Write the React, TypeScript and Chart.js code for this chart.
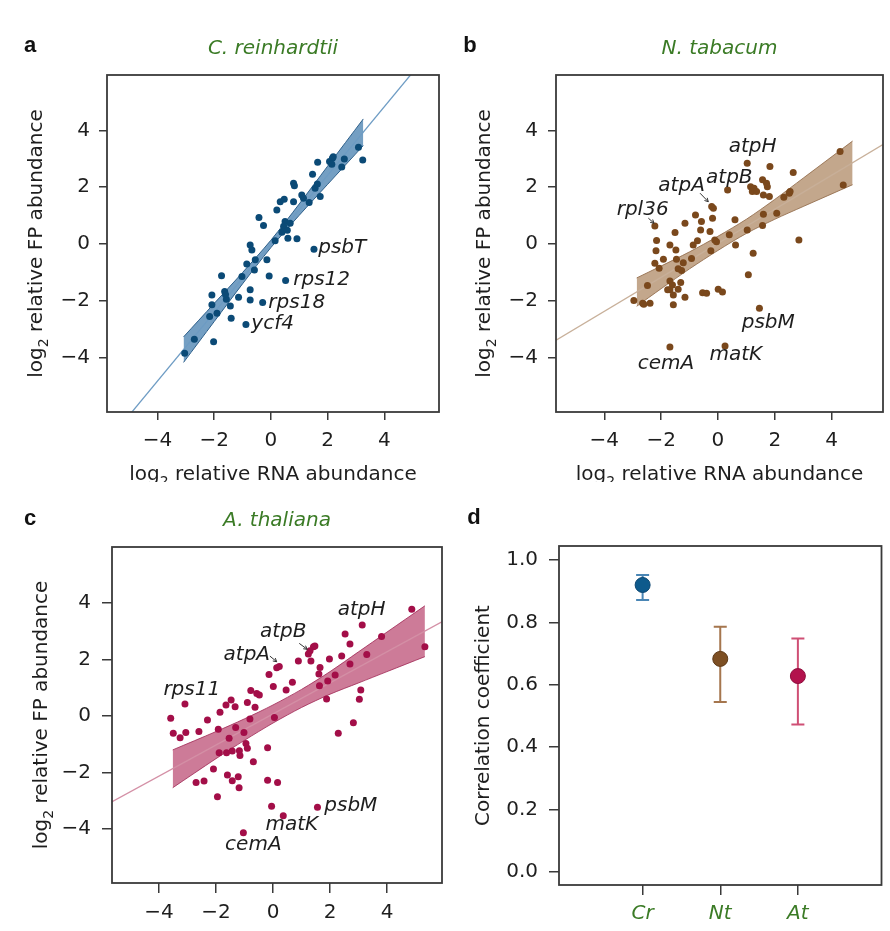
import React, { useEffect, useRef } from "react";
import { Chart, registerables } from "chart.js";

Chart.register(...registerables);

const SANS = '"DejaVu Sans", Verdana, sans-serif';
const LETTER_FONT = 'bold 22px "Liberation Sans", Arial, sans-serif';
const GREEN = "#3b7b26";
const INK = "#1e1e1e";
const FRAME = "#3a3a3a";

// Shared tick values
const scatterTicks = [-4, -2, 0, 2, 4];
const corrTicks = [0, 0.2, 0.4, 0.6, 0.8, 1.0];

// ---- C. reinhardtii: log2 RNA (x) vs log2 FP (y) ----
const crRna = [
  -3.04, -2.7, -2.02, -2.16, -2.08, -2.08, -1.9, -1.74, -1.63, -1.57,
  -1.43, -1.4, -1.14, -1.02, -0.85, -0.73, -0.73, -0.88, -0.29, -0.58,
  -0.55, -0.73, -0.67, -0.14, -0.06, 0.52, 0.15, 0.39, 0.6, 0.92,
  0.5, 0.68, -0.26, -0.42, 0.21, 0.33, 0.47, 0.8, 0.8, 0.83,
  1.09, 1.15, 1.35, 1.47, 1.56, 1.64, 1.74, 1.65, 1.52, 2.07,
  2.17, 2.15, 2.5, 2.59, 3.09, 3.24, 2.2, 0.45, 0.58, -1.6,
];
const crFp = [
  -3.86, -3.36, -3.45, -2.56, -2.15, -1.8, -2.45, -1.12, -1.68, -1.95,
  -2.19, -2.62, -1.88, -1.15, -0.71, -1.62, -1.98, -2.84, -2.07, -0.92,
  -0.56, -0.04, -0.21, -0.56, -1.13, -1.29, 0.11, 0.41, 0.2, 0.18,
  0.79, 0.73, 0.65, 0.93, 1.2, 1.49, 1.58, 1.49, 2.14, 2.05,
  1.73, 1.61, 1.46, 2.46, 1.96, 2.11, 1.67, 2.88, -0.19, 2.91,
  3.02, 2.81, 2.71, 3.0, 3.41, 2.96, 3.08, 0.62, 0.48, -1.78,
];
const crFitX = [-6, 6];
const crFitY = [-7.26, 7.26];
const crBandX = [-3.08, -2, -1, 0, 1, 2, 3.26];
const crBandUp = [-3.28, -2.1, -1.01, 0.13, 1.41, 2.74, 4.41];
const crBandLo = [-4.18, -2.74, -1.41, -0.13, 1.01, 2.1, 3.47];
const crGenes = ["psbT", "rps12", "rps18", "ycf4"];
const crGeneX = [1.67, 0.79, -0.09, -0.69];
const crGeneY = [-0.14, -1.27, -2.08, -2.82];

// ---- N. tabacum ----
const ntRna = [
  -2.96, -2.65, -2.61, -2.39, -2.48, -2.22, -2.16, -2.18, -2.22, -2.07,
  -1.92, -1.69, -1.51, -1.48, -1.46, -1.4, -1.28, -1.22, -1.16, -0.93,
  -0.87, -0.79, -0.72, -0.61, -0.58, -0.28, -0.25, -0.19, -0.22, -0.16,
  -0.11, -0.05, -1.69, -1.6, -1.69, -1.77, -1.57, -1.31, -1.4, -1.57,
  -1.16, -0.54, -0.4, 0.01, 0.16, 0.25, -1.69, 0.4, 0.6, 0.62,
  0.34, 1.03, 1.07, 1.24, 1.03, 1.15, 1.21, 1.27, 1.36, 1.57,
  1.6, 1.71, 1.74, 1.81, 1.83, 1.6, 1.57, 2.07, 2.32, 2.51,
  2.54, 2.65, 2.85, 1.46, 4.3, 4.41,
];
const ntFp = [
  -2.0, -2.09, -2.13, -2.09, -1.47, 0.63, 0.12, -0.24, -0.68, -0.86,
  -0.54, -0.04, 0.4, -0.21, -0.54, -0.88, -0.94, -0.66, 0.73, -0.51,
  -0.04, 1.02, 0.11, 0.49, 0.79, 0.44, -0.24, 0.91, 1.32, 1.26,
  0.14, 0.08, -1.31, -1.45, -1.62, -1.62, -1.8, -1.36, -1.6, -2.15,
  -1.88, -1.72, -1.74, -1.6, -1.7, -3.6, -3.64, 0.32, 0.85, -0.04,
  1.9, 0.49, -1.09, -0.33, 2.85, 2.02, 1.85, 1.96, 1.85, 2.26,
  1.73, 2.14, 2.02, 1.67, 2.73, 1.05, 0.65, 1.08, 1.65, 1.79,
  1.85, 2.52, 0.14, -2.27, 3.26, 2.08,
];
const ntFitX = [-6, 6];
const ntFitY = [-3.58, 3.62];
const ntBandX = [-2.86, -2, -1, 0, 1, 2, 3, 4.74];
const ntBandUp = [-1.2, -0.78, -0.28, 0.27, 0.87, 1.57, 2.32, 3.63];
const ntBandLo = [-2.2, -1.58, -0.88, -0.23, 0.37, 0.87, 1.32, 2.09];
const ntGenes = ["atpH", "atpB", "atpA", "rpl36", "psbM", "cemA", "matK"];
const ntGeneX = [1.22, 0.4, -1.28, -2.65, 1.77, -1.83, 0.63];
const ntGeneY = [3.41, 2.32, 2.05, 1.22, -2.8, -4.23, -3.92];

// ---- A. thaliana ----
const atRna = [
  -3.59, -3.5, -3.26, -3.06, -3.09, -2.7, -2.42, -2.6, -2.3, -2.09,
  -1.95, -1.92, -1.89, -1.86, -1.65, -1.63, -1.6, -1.54, -1.47, -1.43,
  -1.43, -1.33, -1.31, -1.22, -1.19, -1.18, -1.16, -1.02, -0.95, -0.9,
  -0.9, -0.81, -0.78, -0.69, -0.63, -0.57, -0.48, -0.19, -0.19, -0.14,
  -0.05, 0.01, 0.05, 0.13, 0.22, 0.16, 0.36, 0.46, 0.68, 0.89,
  1.24, 1.3, 1.42, 1.47, 1.33, -1.04, 1.56, 1.61, 1.65, 1.63,
  1.92, 1.98, 1.88, 2.18, 2.29, 2.41, 2.53, 2.7, 2.7, 2.82,
  3.03, 3.08, 3.13, 3.29, 3.81, 4.87, 5.33,
];
const atFp = [
  -0.08, -0.61, -0.77, -0.58, 0.42, -2.35, -2.3, -0.55, -0.14, -1.88,
  -2.86, -0.47, -1.3, 0.13, 0.39, -1.3, -2.09, -0.79, 0.57, -1.24,
  -2.29, 0.33, -0.41, -2.15, -2.54, -1.23, -1.4, -0.58, -0.97, -1.14,
  0.48, -0.11, 0.9, -1.62, 0.31, 0.8, 0.74, -1.12, -2.27, 1.47,
  -3.19, 1.04, -0.05, 1.71, 1.75, -2.35, -3.53, 0.92, 1.19, 1.95,
  2.19, 2.31, 2.45, 2.48, 1.95, -4.13, -3.23, 1.49, 1.72, 1.07,
  1.24, 2.02, 0.6, 1.45, -0.61, 2.12, 2.9, 2.55, 1.84, -0.24,
  0.59, 0.92, 3.22, 2.18, 2.81, 3.78, 2.45,
];
const atFitX = [-6, 6];
const atFitY = [-3.23, 3.37];
const atBandX = [-3.52, -2, -1, 0, 1, 2, 3, 4, 5.33];
const atBandUp = [-1.2, -0.55, -0.1, 0.39, 0.94, 1.57, 2.27, 2.97, 3.9];
const atBandLo = [-2.54, -1.51, -0.86, -0.25, 0.3, 0.77, 1.17, 1.57, 2.1];
const atGenes = ["atpH", "atpB", "atpA", "rps11", "psbM", "matK", "cemA"];
const atGeneX = [3.11, 0.36, -0.92, -2.85, 2.73, 0.66, -0.69];
const atGeneY = [3.75, 2.98, 2.18, 0.94, -3.19, -3.86, -4.57];

// ---- Correlation summary ----
const summarySpecies = ["Cr", "Nt", "At"];
const corr = [0.92, 0.683, 0.628];
const corrLow = [0.872, 0.545, 0.473];
const corrHigh = [0.952, 0.786, 0.748];
const corrPointColors = ["#0e5a8c", "#7d4f23", "#b3124d"];
const corrPointEdges = ["#0a4570", "#5e3a18", "#8e0d3c"];
const corrBarColors = ["#4a86b5", "#a5764e", "#cf4f75"];

const minusFmt = (v: number) => (v < 0 ? "\u2212" + Math.abs(v) : String(v));

function linearAxis(
  min: number,
  max: number,
  ticks: number[],
  size: number,
  tickLen: number,
  pad: number,
  fmt: (v: number) => string,
  tickFont: any = { family: SANS, size: 20 },
  tickColor: string = INK
) {
  return {
    type: "linear",
    min,
    max,
    afterBuildTicks: (s: any) => {
      s.ticks = ticks.map((v) => ({ value: v }));
    },
    afterFit: (s: any) => {
      if (s.isHorizontal()) s.height = size;
      else s.width = size;
    },
    grid: {
      drawOnChartArea: false,
      drawTicks: true,
      tickLength: tickLen,
      color: FRAME,
      lineWidth: 1.5,
    },
    border: { display: false },
    ticks: {
      padding: pad,
      color: tickColor,
      font: tickFont,
      maxRotation: 0,
      autoSkip: false,
      callback: (v: any) => fmt(Number(v)),
    },
  };
}

function subscriptTitle(
  ctx: CanvasRenderingContext2D,
  before: string,
  sub: string,
  after: string,
  x: number,
  y: number,
  rotate: boolean,
  size: number
) {
  ctx.save();
  ctx.translate(x, y);
  if (rotate) ctx.rotate(-Math.PI / 2);
  const main = `${size}px ${SANS}`;
  const small = `${Math.round(size * 0.7)}px ${SANS}`;
  ctx.font = main;
  const w1 = ctx.measureText(before).width;
  const w3 = ctx.measureText(after).width;
  ctx.font = small;
  const w2 = ctx.measureText(sub).width;
  let cx = -(w1 + w2 + w3) / 2;
  ctx.textAlign = "left";
  ctx.textBaseline = "alphabetic";
  ctx.fillStyle = INK;
  const base = size * 0.36;
  ctx.font = main;
  ctx.fillText(before, cx, base);
  cx += w1;
  if (sub) {
    ctx.font = small;
    ctx.fillText(sub, cx, base + size * 0.3);
    cx += w2;
  }
  ctx.font = main;
  ctx.fillText(after, cx, base);
  ctx.restore();
}

function arrow(ctx: CanvasRenderingContext2D, x1: number, y1: number, x2: number, y2: number) {
  ctx.beginPath();
  ctx.moveTo(x1, y1);
  ctx.lineTo(x2, y2);
  ctx.stroke();
  const ang = Math.atan2(y2 - y1, x2 - x1);
  const h = 4;
  ctx.beginPath();
  ctx.moveTo(x2, y2);
  ctx.lineTo(x2 - h * Math.cos(ang - 0.5), y2 - h * Math.sin(ang - 0.5));
  ctx.moveTo(x2, y2);
  ctx.lineTo(x2 - h * Math.cos(ang + 0.5), y2 - h * Math.sin(ang + 0.5));
  ctx.stroke();
}

interface ScatterPanel {
  letter: string;
  letterX: number;
  letterY: number;
  title: string;
  rna: number[];
  fp: number[];
  fitX: number[];
  fitY: number[];
  bandX: number[];
  bandUp: number[];
  bandLo: number[];
  genes: string[];
  geneX: number[];
  geneY: number[];
  geneAlign: CanvasTextAlign;
  arrows: number[][];
  xRange: [number, number];
  yRange: [number, number];
  point: string;
  line: string;
  band: string;
  edge: string;
  w: number;
  h: number;
  area: { left: number; top: number; right: number; bottom: number };
  tickLen: number;
  xPad: number;
  yPad: number;
  yTitleGap: number;
  showXTitle: boolean;
}

function frame(ctx: CanvasRenderingContext2D, a: any) {
  ctx.strokeStyle = FRAME;
  ctx.lineWidth = 1.8;
  ctx.strokeRect(a.left, a.top, a.right - a.left, a.bottom - a.top);
}

function scatterConfig(p: ScatterPanel): any {
  const pts = p.rna.map((x, i) => ({ x, y: p.fp[i] }));
  const fit = p.fitX.map((x, i) => ({ x, y: p.fitY[i] }));
  const up = p.bandX.map((x, i) => ({ x, y: p.bandUp[i] }));
  const lo = p.bandX.map((x, i) => ({ x, y: p.bandLo[i] }));

  const decor = {
    id: "decor",
    afterDraw(chart: any) {
      const { ctx, chartArea: a, scales } = chart;
      const X = (v: number) => scales.x.getPixelForValue(v);
      const Y = (v: number) => scales.y.getPixelForValue(v);
      ctx.save();
      frame(ctx, a);
      ctx.strokeStyle = "#333";
      ctx.lineWidth = 1;
      p.arrows.forEach(([x1, y1, x2, y2]) => arrow(ctx, X(x1), Y(y1), X(x2), Y(y2)));
      ctx.font = `italic 20px ${SANS}`;
      ctx.fillStyle = INK;
      ctx.textBaseline = "middle";
      ctx.textAlign = p.geneAlign;
      p.genes.forEach((g, i) => ctx.fillText(g, X(p.geneX[i]), Y(p.geneY[i])));
      ctx.fillStyle = GREEN;
      ctx.textAlign = "center";
      ctx.fillText(p.title, (a.left + a.right) / 2, a.top - 26);
      ctx.font = LETTER_FONT;
      ctx.fillStyle = "#111";
      ctx.fillText(p.letter, p.letterX, p.letterY);
      if (p.showXTitle)
        subscriptTitle(ctx, "log", "2", " relative RNA abundance", (a.left + a.right) / 2, a.bottom + 61, false, 20);
      subscriptTitle(ctx, "log", "2", " relative FP abundance", a.left - p.yTitleGap, (a.top + a.bottom) / 2, true, 20);
      ctx.restore();
    },
  };

  return {
    type: "scatter",
    data: {
      datasets: [
        { data: pts, pointRadius: 3.5, pointHoverRadius: 3.5, pointBackgroundColor: p.point, pointBorderWidth: 0 },
        { type: "line", data: fit, borderColor: p.line, borderWidth: 1.3, pointRadius: 0, fill: false, tension: 0 },
        { type: "line", data: up, borderColor: p.edge, borderWidth: 1, pointRadius: 0, fill: false, tension: 0.3 },
        {
          type: "line",
          data: lo,
          borderColor: p.edge,
          borderWidth: 1,
          pointRadius: 0,
          fill: "-1",
          backgroundColor: p.band,
          tension: 0.3,
        },
      ],
    },
    options: {
      responsive: false,
      animation: false,
      devicePixelRatio: 1,
      events: [],
      layout: { padding: { left: 0, top: p.area.top, right: p.w - p.area.right, bottom: 0 } },
      plugins: { legend: { display: false }, tooltip: { enabled: false } },
      scales: {
        x: linearAxis(p.xRange[0], p.xRange[1], scatterTicks, p.h - p.area.bottom, p.tickLen, p.xPad, minusFmt),
        y: linearAxis(p.yRange[0], p.yRange[1], scatterTicks, p.area.left, p.tickLen, p.yPad, minusFmt),
      },
    },
    plugins: [decor],
  };
}

function summaryConfig(w: number, h: number, area: any): any {
  const errorBars = {
    id: "errorBars",
    beforeDatasetsDraw(chart: any) {
      const { ctx, scales } = chart;
      ctx.save();
      ctx.lineWidth = 2;
      corr.forEach((_, i) => {
        const px = scales.x.getPixelForValue(i + 1);
        const lo = scales.y.getPixelForValue(corrLow[i]);
        const hi = scales.y.getPixelForValue(corrHigh[i]);
        ctx.strokeStyle = corrBarColors[i];
        ctx.beginPath();
        ctx.moveTo(px, lo);
        ctx.lineTo(px, hi);
        ctx.moveTo(px - 6.5, lo);
        ctx.lineTo(px + 6.5, lo);
        ctx.moveTo(px - 6.5, hi);
        ctx.lineTo(px + 6.5, hi);
        ctx.stroke();
      });
      ctx.restore();
    },
  };
  const decor = {
    id: "decor",
    afterDraw(chart: any) {
      const { ctx, chartArea: a } = chart;
      ctx.save();
      frame(ctx, a);
      ctx.font = LETTER_FONT;
      ctx.fillStyle = "#111";
      ctx.textAlign = "center";
      ctx.textBaseline = "middle";
      ctx.fillText("d", 27, 36);
      subscriptTitle(ctx, "Correlation coefficient", "", "", a.left - 77, (a.top + a.bottom) / 2, true, 20);
      ctx.restore();
    },
  };
  return {
    type: "scatter",
    data: {
      datasets: [
        {
          data: corr.map((v, i) => ({ x: i + 1, y: v })),
          pointRadius: 7.5,
          pointHoverRadius: 7.5,
          pointBackgroundColor: corrPointColors,
          pointBorderColor: corrPointEdges,
          pointBorderWidth: 1,
        },
      ],
    },
    options: {
      responsive: false,
      animation: false,
      devicePixelRatio: 1,
      events: [],
      layout: { padding: { left: 0, top: area.top, right: w - area.right, bottom: 0 } },
      plugins: { legend: { display: false }, tooltip: { enabled: false } },
      scales: {
        x: linearAxis(
          -0.077,
          4.077,
          [1, 2, 3],
          h - area.bottom,
          10,
          7,
          (v) => summarySpecies[v - 1] ?? "",
          { family: SANS, size: 20, style: "italic" },
          GREEN
        ),
        y: linearAxis(-0.042, 1.045, corrTicks, area.left, 10, 11, (v) => v.toFixed(1)),
      },
    },
    plugins: [errorBars, decor],
  };
}

function ChartCanvas({ left, top, width, height, build }: any) {
  const ref = useRef<HTMLCanvasElement>(null);
  useEffect(() => {
    const chart = new Chart(ref.current as HTMLCanvasElement, build());
    return () => chart.destroy();
  }, []);
  return (
    <canvas
      ref={ref}
      width={width}
      height={height}
      style={{ position: "absolute", left, top, width, height }}
    />
  );
}

const panelA: ScatterPanel = {
  letter: "a",
  letterX: 30,
  letterY: 46,
  title: "C. reinhardtii",
  rna: crRna,
  fp: crFp,
  fitX: crFitX,
  fitY: crFitY,
  bandX: crBandX,
  bandUp: crBandUp,
  bandLo: crBandLo,
  genes: crGenes,
  geneX: crGeneX,
  geneY: crGeneY,
  geneAlign: "left",
  arrows: [],
  xRange: [-5.78, 5.93],
  yRange: [-5.93, 5.96],
  point: "#0b4a76",
  line: "#6e9cc4",
  band: "rgba(62,122,172,0.72)",
  edge: "#2d5f8a",
  w: 447,
  h: 482,
  area: { left: 107, top: 75, right: 439, bottom: 412 },
  tickLen: 8,
  xPad: 9,
  yPad: 9,
  yTitleGap: 72,
  showXTitle: true,
};

const panelB: ScatterPanel = {
  letter: "b",
  letterX: 23,
  letterY: 46,
  title: "N. tabacum",
  rna: ntRna,
  fp: ntFp,
  fitX: ntFitX,
  fitY: ntFitY,
  bandX: ntBandX,
  bandUp: ntBandUp,
  bandLo: ntBandLo,
  genes: ntGenes,
  geneX: ntGeneX,
  geneY: ntGeneY,
  geneAlign: "center",
  arrows: [
    [-2.45, 0.91, -2.25, 0.73],
    [-0.63, 1.79, -0.34, 1.49],
  ],
  xRange: [-5.7, 5.81],
  yRange: [-5.93, 5.96],
  point: "#7a481c",
  line: "#c8b09a",
  band: "rgba(178,142,108,0.78)",
  edge: "rgba(150,112,80,0.9)",
  w: 443,
  h: 482,
  area: { left: 109, top: 75, right: 436, bottom: 412 },
  tickLen: 8,
  xPad: 9,
  yPad: 10,
  yTitleGap: 73,
  showXTitle: true,
};

const panelC: ScatterPanel = {
  letter: "c",
  letterX: 30,
  letterY: 37,
  title: "A. thaliana",
  rna: atRna,
  fp: atFp,
  fitX: atFitX,
  fitY: atFitY,
  bandX: atBandX,
  bandUp: atBandUp,
  bandLo: atBandLo,
  genes: atGenes,
  geneX: atGeneX,
  geneY: atGeneY,
  geneAlign: "center",
  arrows: [
    [-0.11, 2.12, 0.13, 1.92],
    [0.92, 2.57, 1.2, 2.36],
  ],
  xRange: [-5.65, 5.93],
  yRange: [-5.91, 5.98],
  point: "#a30e48",
  line: "#d490a6",
  band: "rgba(186,72,112,0.72)",
  edge: "rgba(160,40,85,0.8)",
  w: 447,
  h: 449,
  area: { left: 112, top: 65, right: 442, bottom: 401 },
  tickLen: 10,
  xPad: 8,
  yPad: 11,
  yTitleGap: 72,
  showXTitle: false,
};

export default function App() {
  return (
    <div style={{ position: "absolute", left: 0, top: 0, width: 890, height: 931, background: "#fff", overflow: "hidden" }}>
      <ChartCanvas left={0} top={0} width={447} height={482} build={() => scatterConfig(panelA)} />
      <ChartCanvas left={447} top={0} width={443} height={482} build={() => scatterConfig(panelB)} />
      <ChartCanvas left={0} top={482} width={447} height={449} build={() => scatterConfig(panelC)} />
      <ChartCanvas
        left={447}
        top={482}
        width={443}
        height={449}
        build={() => summaryConfig(443, 449, { left: 112, top: 64, right: 436, bottom: 403 })}
      />
    </div>
  );
}
